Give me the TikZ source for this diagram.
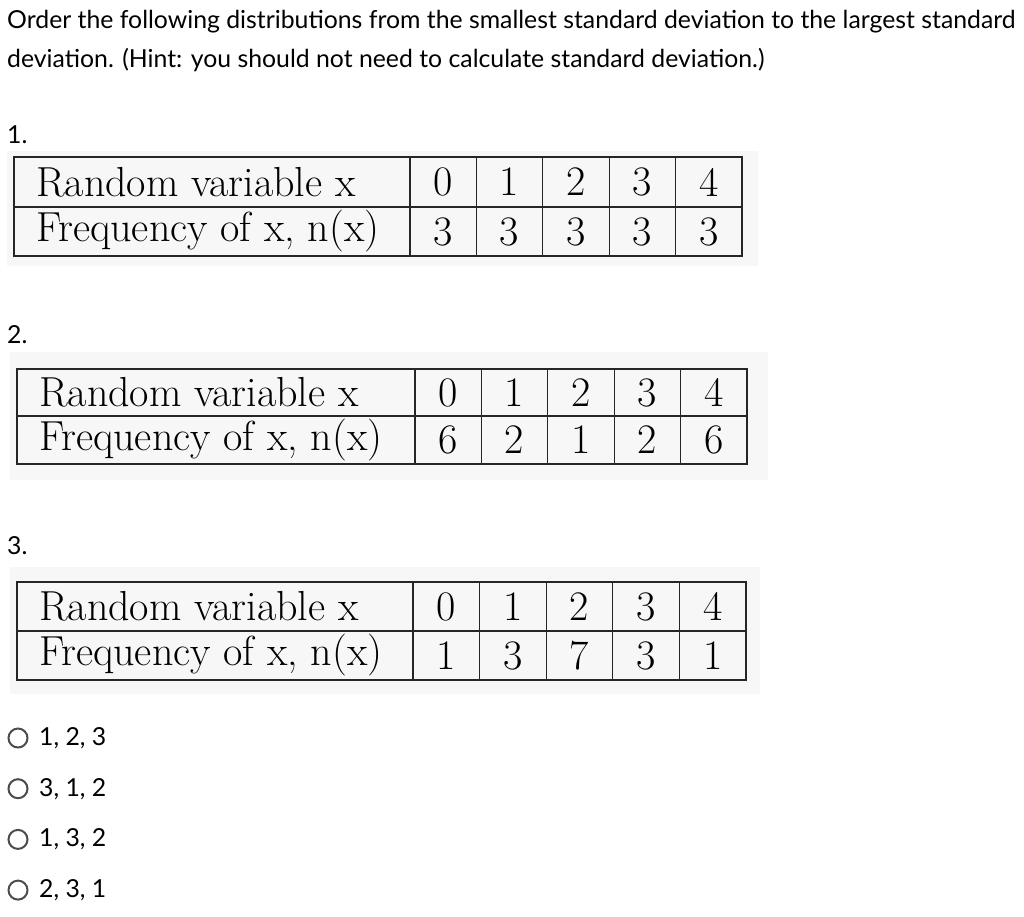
\documentclass[tikz,border=0pt]{standalone}
\usepackage{fontspec}
\newfontfamily\qfont{Lato}
\begin{document}
\begin{tikzpicture}[x=1pt,y=-1pt,
  qtext/.style={anchor=west,inner sep=0pt,font=\qfont\fontsize{24.8}{26}\selectfont},
  cell/.style={inner sep=0pt,font=\fontsize{42}{46}\selectfont},
  tline/.style={line width=1.3pt,black!85},
  bgpanel/.style={fill=black!3,draw=none}]
\useasboundingbox[fill=white] (0,0) rectangle (1024,916);
\node[qtext] (q1) at (7,22) {Order the following distributions from the smallest standard deviation to the largest standard};
\node[qtext] (q2) at (7,60) {deviation. (Hint: you should not need to calculate standard deviation.)};
\newcommand\mytable[9]{%
  \draw[tline] (#1,#2) rectangle (#7,#4);
  \draw[tline] (#1,#3) -- (#7,#3);
  \foreach \i in {0,...,4}{\draw[tline] ({#5+\i*#6},#2) -- ({#5+\i*#6},#4);}
  \node[cell,anchor=west] (#9a) at ({#1+22},{(#2+#3)/2}) {Random variable x};
  \node[cell,anchor=west] (#9b) at ({#1+22},{(#3+#4)/2}) {Frequency of x, n(x)};
  \foreach \v [count=\k from 0] in {0,1,2,3,4}{\node[cell] (#9x\k) at ({#5+(\k+0.5)*#6},{(#2+#3)/2}) {\v};}
  \foreach \v [count=\k from 0] in {#8}{\node[cell] (#9f\k) at ({#5+(\k+0.5)*#6},{(#3+#4)/2}) {\v};}
}
\node[qtext] (n1) at (7,135) {1.};
\fill[bgpanel] (7,151) rectangle (758,266);
\mytable{14}{157}{207}{256}{410}{66.4}{742}{3,3,3,3,3}{t1}
\node[qtext] (n2) at (7,335) {2.};
\fill[bgpanel] (10,352) rectangle (768,480);
\mytable{17}{369}{416}{464}{415}{66.4}{747}{6,2,1,2,6}{t2}
\node[qtext] (n3) at (7,546) {3.};
\fill[bgpanel] (10,567) rectangle (760,694);
\mytable{17}{582}{631}{680}{413}{66.6}{746}{1,3,7,3,1}{t3}
\foreach \t [count=\k from 0] in {{1, 2, 3},{3, 1, 2},{1, 3, 2},{2, 3, 1}}{
  \draw[line width=2pt,black!70] (18,{738+\k*50.7}) circle (9.5);
  \node[qtext] (o\k) at (39,{738+\k*50.7}) {\t};
}
\end{tikzpicture}
\end{document}
